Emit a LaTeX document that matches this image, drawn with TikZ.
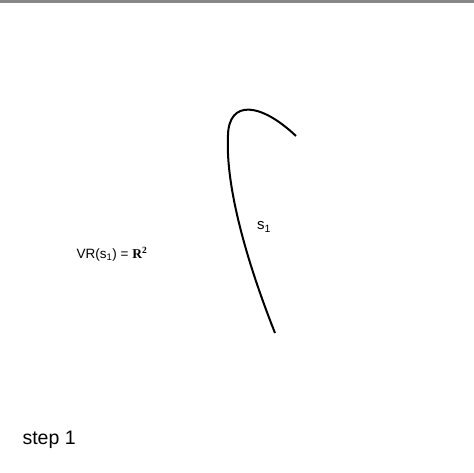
\documentclass[tikz,border=0pt]{standalone}
\usepackage{fontspec}
\setmainfont{Liberation Sans}
\newfontfamily\timesfont{Liberation Serif}
\usepackage{amsmath,amssymb}
\usepackage{xcolor}
\usepackage{tikz}
\usetikzlibrary{positioning}

\definecolor{framegray}{HTML}{888888}

\begin{document}
\begin{tikzpicture}[x=1pt,y=-1pt]
    % Frame of the page
    \useasboundingbox (0,0) rectangle (474,472);
    \fill[framegray] (0,0) rectangle (474,2.5);

    % Draw the curve s_1
    \draw[line width=2pt] (275,333) .. controls (250,270) and (225,190) .. (228,135)
        .. controls (229,100) and (260,102) .. (296,136);

    % Label the curve and its region
    \node (curve) at (264,227) {\fontsize{15}{17}\selectfont s\textsubscript{1}};
    \node (region) at (112,254) {\fontsize{13.5}{16}\selectfont VR(s\textsubscript{1}) = {\timesfont\bfseries R\textsuperscript{2}}};

    % Label the step
    \node[anchor=west] (stepname) at (19,440) {\fontsize{19.5}{22}\selectfont step 1};
\end{tikzpicture}
\end{document}
